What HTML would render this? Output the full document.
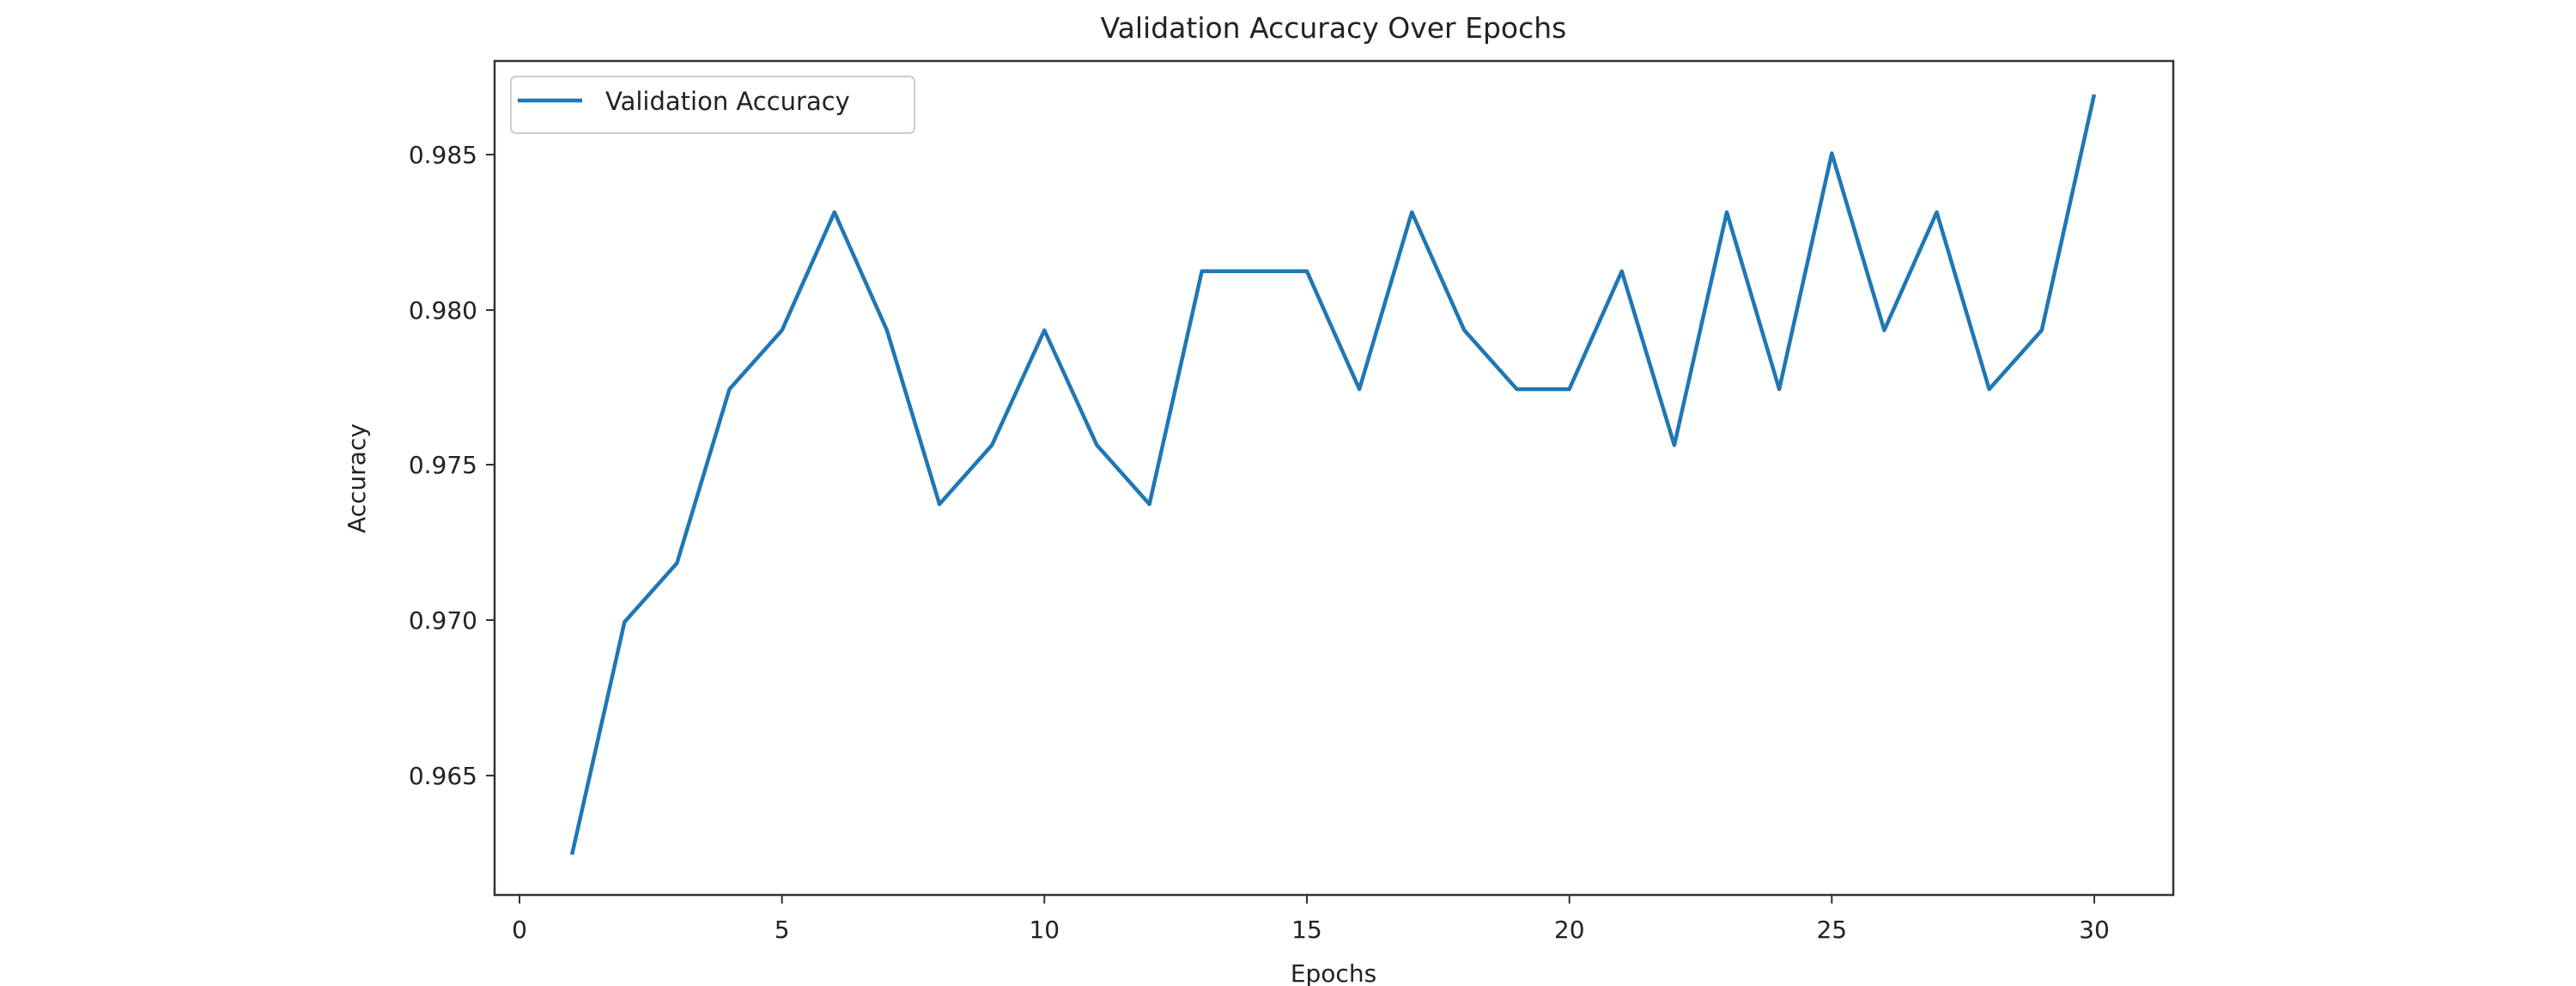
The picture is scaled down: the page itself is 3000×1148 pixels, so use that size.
<!DOCTYPE html>
<html><head><meta charset="utf-8"><style>
html,body{margin:0;padding:0;background:#fff;}
svg{display:block;font-family:"DejaVu Sans","Liberation Sans",sans-serif;}
</style></head><body>
<svg width="3000" height="1148" viewBox="0 0 3000 1148" xmlns="http://www.w3.org/2000/svg">
<rect width="3000" height="1148" fill="#fff"/>
<text x="1553" y="44" font-size="33" text-anchor="middle" fill="#222">Validation Accuracy Over Epochs</text>
<polyline fill="none" stroke="#1f77b4" stroke-width="4.5" stroke-linejoin="round" points="
666.1,995.0 727.3,724.3 788.4,655.6 849.5,453.1 910.7,384.5 971.8,247.1 1032.9,384.5 1094.1,587.0 1155.2,518.3 1216.3,384.5 1277.4,518.3 1338.6,587.0 1399.7,315.8 1460.8,315.8 1522.0,315.8 1583.1,453.1 1644.2,247.1 1705.3,384.5 1766.5,453.1 1827.6,453.1 1888.7,315.8 1949.9,518.3 2011.0,247.1 2072.1,453.1 2133.3,178.5 2194.4,384.5 2255.5,247.1 2316.6,453.1 2377.8,384.5 2438.9,110.0"/>
<rect x="576" y="71" width="1955" height="971" fill="none" stroke="#333" stroke-width="2.5"/>
<g stroke="#333" stroke-width="2">
<line x1="605" y1="1042" x2="605" y2="1052"/>
<line x1="910.7" y1="1042" x2="910.7" y2="1052"/>
<line x1="1216.3" y1="1042" x2="1216.3" y2="1052"/>
<line x1="1522" y1="1042" x2="1522" y2="1052"/>
<line x1="1827.7" y1="1042" x2="1827.7" y2="1052"/>
<line x1="2133.3" y1="1042" x2="2133.3" y2="1052"/>
<line x1="2439" y1="1042" x2="2439" y2="1052"/>
<line x1="566" y1="180" x2="576" y2="180"/>
<line x1="566" y1="361" x2="576" y2="361"/>
<line x1="566" y1="541" x2="576" y2="541"/>
<line x1="566" y1="722" x2="576" y2="722"/>
<line x1="566" y1="903" x2="576" y2="903"/>
</g>
<g font-size="28" fill="#222" text-anchor="middle">
<text x="605" y="1092">0</text>
<text x="910.7" y="1092">5</text>
<text x="1216.3" y="1092">10</text>
<text x="1522" y="1092">15</text>
<text x="1827.7" y="1092">20</text>
<text x="2133.3" y="1092">25</text>
<text x="2439" y="1092">30</text>
</g>
<g font-size="28" fill="#222" text-anchor="end">
<text x="556" y="190">0.985</text>
<text x="556" y="371">0.980</text>
<text x="556" y="551">0.975</text>
<text x="556" y="732">0.970</text>
<text x="556" y="913">0.965</text>
</g>
<text x="1553" y="1143" font-size="28" fill="#222" text-anchor="middle">Epochs</text>
<text transform="translate(425,557) rotate(-90)" font-size="28" fill="#222" text-anchor="middle">Accuracy</text>
<rect x="595" y="89" width="470" height="66" rx="6" fill="#fff" stroke="#ccc" stroke-width="2"/>
<line x1="603" y1="117" x2="678" y2="117" stroke="#1f77b4" stroke-width="4.5"/>
<text x="705" y="128" font-size="29" fill="#222">Validation Accuracy</text>
</svg>
</body></html>
